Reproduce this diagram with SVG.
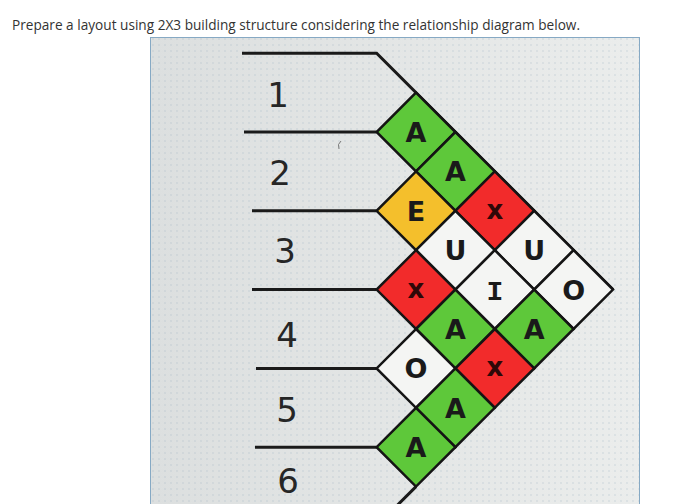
<svg xmlns="http://www.w3.org/2000/svg" xmlns:xlink="http://www.w3.org/1999/xlink" width="700" height="504" viewBox="0 0 700 504">
<style>
.hdr{font-family:"Open Sans","Liberation Sans",sans-serif;font-size:14px;fill:#333}
.num{font-family:"DejaVu Sans","Liberation Sans",sans-serif;font-size:34px;fill:#262626;text-anchor:middle}
.lt{font-family:"DejaVu Sans","Liberation Sans",sans-serif;font-size:27px;font-weight:bold;fill:#1a1a1a;text-anchor:middle}
.lx{font-family:"DejaVu Sans","Liberation Sans",sans-serif;font-size:26px;font-weight:bold;fill:#2e0808;text-anchor:middle}
.li{font-family:"Liberation Mono","DejaVu Sans Mono",monospace;font-size:28px;font-weight:bold;fill:#1a1a1a;text-anchor:middle}
.g{fill:#5ec83a}
.r{fill:#f22b2b}
.y{fill:#f4bf2c}
.w{fill:#f4f5f3}
.dm{stroke:#141414;stroke-width:2.5;stroke-linejoin:miter}
.ln{fill:none;stroke:#1a1a1a;stroke-width:3}
</style>
<defs>
<linearGradient id="bg" x1="0" y1="0" x2="1" y2="0">
<stop offset="0" stop-color="#dcdfdf"/>
<stop offset="1" stop-color="#ebedec"/>
</linearGradient>
<pattern id="dots" width="6" height="6" patternUnits="userSpaceOnUse">
<circle cx="3" cy="3" r="0.8" fill="#9fb6c4" opacity="0.45"/>
</pattern>
<path id="d" d="M0,-39.4 L39.4,0 L0,39.4 L-39.4,0Z"/>
</defs>
<rect width="700" height="504" fill="#ffffff"/>
<text class="hdr" x="12" y="30" textLength="568" lengthAdjust="spacingAndGlyphs">Prepare a layout using 2X3 building structure considering the relationship diagram below.</text>
<g id="photo">
<rect x="150.5" y="37.5" width="489" height="470" fill="url(#bg)" stroke="#86a9c4" stroke-width="1"/>
<rect x="151" y="38" width="488" height="466" fill="url(#dots)"/>
<path d="M341,141 q-4,3 -2,8" fill="none" stroke="#777" stroke-width="1"/>
</g>
<g id="labels">
<text class="num" x="278" y="107">1</text>
<text class="num" x="280" y="185">2</text>
<text class="num" x="285" y="263">3</text>
<text class="num" x="287" y="347">4</text>
<text class="num" x="287" y="422">5</text>
<text class="num" x="288" y="493">6</text>
</g>
<g id="connectors">
<path class="ln" d="M242,53.2 H376.6 L613,289.6"/>
<path class="ln" d="M244,132 H376.6"/>
<path class="ln" d="M252,210.8 H376.6"/>
<path class="ln" d="M252,289.6 H376.6"/>
<path class="ln" d="M256,368.4 H376.6"/>
<path class="ln" d="M255,447.2 H376.6"/>
<path class="ln" d="M416,486.6 L376.6,526 H255"/>
</g>
<g id="n12" transform="translate(416,132)"><use xlink:href="#d" class="dm g"/><text class="lt" y="10">A</text></g>
<g id="n13" transform="translate(455.4,171.4)"><use xlink:href="#d" class="dm g"/><text class="lt" y="10">A</text></g>
<g id="n23" transform="translate(416,210.8)"><use xlink:href="#d" class="dm y"/><text class="lt" y="10">E</text></g>
<g id="n14" transform="translate(494.8,210.8)"><use xlink:href="#d" class="dm r"/><text class="lx" y="8">x</text></g>
<g id="n24" transform="translate(455.4,250.2)"><use xlink:href="#d" class="dm w"/><text class="lt" y="10">U</text></g>
<g id="n34" transform="translate(416,289.6)"><use xlink:href="#d" class="dm r"/><text class="lx" y="8">x</text></g>
<g id="n15" transform="translate(534.2,250.2)"><use xlink:href="#d" class="dm w"/><text class="lt" y="10">U</text></g>
<g id="n25" transform="translate(494.8,289.6)"><use xlink:href="#d" class="dm w"/><text class="li" y="10">I</text></g>
<g id="n35" transform="translate(455.4,329)"><use xlink:href="#d" class="dm g"/><text class="lt" y="10">A</text></g>
<g id="n45" transform="translate(416,368.4)"><use xlink:href="#d" class="dm w"/><text class="lt" y="10">O</text></g>
<g id="n16" transform="translate(573.6,289.6)"><use xlink:href="#d" class="dm w"/><text class="lt" y="10">O</text></g>
<g id="n26" transform="translate(534.2,329)"><use xlink:href="#d" class="dm g"/><text class="lt" y="10">A</text></g>
<g id="n36" transform="translate(494.8,368.4)"><use xlink:href="#d" class="dm r"/><text class="lx" y="8">x</text></g>
<g id="n46" transform="translate(455.4,407.8)"><use xlink:href="#d" class="dm g"/><text class="lt" y="10">A</text></g>
<g id="n56" transform="translate(416,447.2)"><use xlink:href="#d" class="dm g"/><text class="lt" y="10">A</text></g>
</svg>
